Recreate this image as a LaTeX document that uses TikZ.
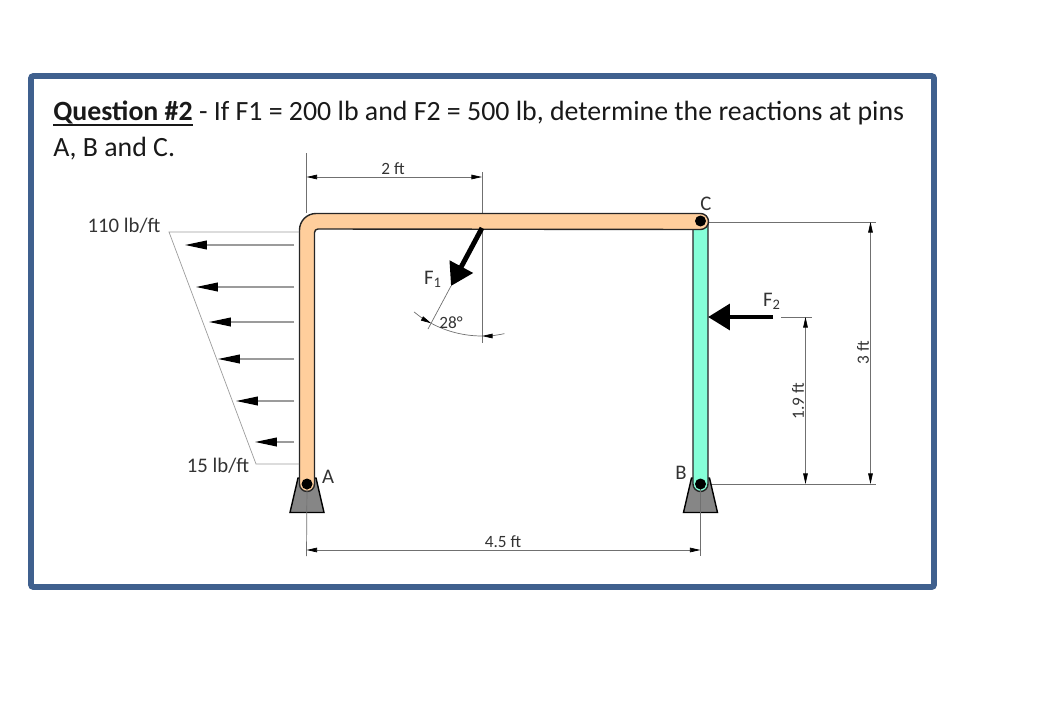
\documentclass[tikz,border=0pt]{standalone}
\usepackage{fontspec}
\setmainfont{Carlito}
\usetikzlibrary{arrows.meta,calc}
\definecolor{framecol}{HTML}{3F608E}
\definecolor{beamcol}{HTML}{FFCE9C}
\definecolor{linkcol}{HTML}{85FFD8}
\definecolor{dimcol}{HTML}{707070}
\definecolor{basecol}{HTML}{868686}
\newcommand{\ulbold}[1]{\setbox0\hbox{\textbf{#1}}\rlap{\raisebox{-3.2pt}{\rule{\wd0}{1.1pt}}}\box0\relax}
\tikzset{
    titletext/.style={anchor=base west,inner sep=0pt,font=\fontsize{15.85}{18}\selectfont,text=black!90},
    loadtext/.style={inner sep=0pt,font=\fontsize{11.8}{14}\selectfont,text=black!80},
    dimtext/.style={inner sep=0pt,font=\fontsize{9.8}{12}\selectfont,text=black!80},
    thinline/.style={dimcol,line width=0.4pt},
    dimline/.style={dimcol,line width=0.4pt,{Triangle[length=6pt,width=2.6pt,black]}-{Triangle[length=6pt,width=2.6pt,black]}},
    loadarrow/.style={dimcol!70,line width=0.8pt,-{Triangle[length=12.5pt,width=5pt,black]}},
    forcearrow/.style={black,line width=2.8pt,-{Triangle[length=12.5pt,width=14.5pt]}},
    member/.style={draw=black!85,line width=0.8pt},
    support/.style={draw=black,fill=basecol,line width=0.8pt},
    pin/.style={fill=black}
}
\begin{document}
\begin{tikzpicture}[x=0.02cm,y=-0.02cm]
    \useasboundingbox (0,0) rectangle (1039,703);

    % Moldura
    \draw[framecol,line width=3.4pt,rounded corners=1.5pt] (31,76) rectangle (934,587);

    % Enunciado
    \node[titletext] (line1) at (53,120) {\ulbold{Question \#2} - If F1 = 200 lb and F2 = 500 lb, determine the reactions at pins};
    \node[titletext] (line2) at (53,156) {A, B and C.};

    % Pontos principais
    \coordinate (A) at (307,484);
    \coordinate (B) at (700.5,484);
    \coordinate (C) at (700.5,221);
    \coordinate (H) at (482,228);

    % Linhas de cota
    \draw[thinline] (306.5,153) -- (306.5,213);
    \draw[thinline] (482,172) -- (482,343);
    \draw[thinline] (708,222) -- (876,222);
    \draw[thinline] (708,484) -- (876,484);
    \draw[thinline] (781,317) -- (812,317);

    % Apoios
    \draw[support] (290,512.5) -- (324,512.5) -- (316,478) -- (298,478) -- cycle;
    \draw[support] (683.5,512.5) -- (717.5,512.5) -- (709.5,478) -- (691.5,478) -- cycle;

    % Barra BC
    \draw[member,fill=linkcol] (693,222) -- (693,484) arc[start angle=180, end angle=0, radius=7.5] -- (708,222) -- cycle;

    % Barra AC
    \draw[member,fill=beamcol] (299.5,484) -- (299.5,230) arc[start angle=180, end angle=270, radius=16.5]
        -- (700.5,213.5) arc[start angle=-90, end angle=90, radius=8] -- (318,229)
        arc[start angle=270, end angle=180, radius=3.5] -- (314.5,484)
        arc[start angle=0, end angle=180, radius=7.5] -- cycle;

    % Pinos
    \draw[thinline] (A) -- (306.5,556);
    \draw[thinline] (B) -- (700.5,556);
    \fill[pin] (A) circle (5.5);
    \fill[pin] (B) circle (5.5);
    \fill[pin] (C) circle (5.5);

    % Cotas
    \draw[dimline] (306.5,177) -- (482,177);
    \draw[dimline] (306.5,550) -- (700.5,550);
    \draw[dimline] (805.5,317) -- (805.5,484);
    \draw[dimline] (870.5,222) -- (870.5,484);
    \node[dimtext] (dim2) at (393,169) {2 ft};
    \node[dimtext] (dim45) at (503,541.5) {4.5 ft};
    \node[dimtext,rotate=90] (dim19) at (798,401) {1.9 ft};
    \node[dimtext,rotate=90] (dim3) at (863,353) {3 ft};

    % Carga distribuida
    \draw[thinline,dimcol!70] (299,232) -- (169,232) -- (256,464) -- (299,464);
    \draw[loadarrow] (294,245) -- (185,245);
    \draw[loadarrow] (294,287) -- (196,287);
    \draw[loadarrow] (294,322) -- (209,322);
    \draw[loadarrow] (294,359) -- (218,359);
    \draw[loadarrow] (294,401) -- (236,401);
    \draw[loadarrow] (294,442) -- (255,442);
    \node[loadtext] (top) at (124,226) {110 lb/ft};
    \node[loadtext] (bottom) at (218,466) {15 lb/ft};

    % Forca F1 e angulo
    \draw[forcearrow] (H) -- (451,286);
    \draw[thinline] (451,286) -- (428,329);
    \draw[thinline,-{Triangle[length=6pt,width=2.6pt,black]}] ($(H)+(129:108)$) arc[start angle=129, end angle=118, radius=108];
    \draw[thinline,-{Triangle[length=6pt,width=2.6pt,black]}] ($(H)+(78:108)$) arc[start angle=78, end angle=90, radius=108];
    \draw[thinline] ($(H)+(118:108)$) arc[start angle=118, end angle=90, radius=108];
    \node[loadtext] (F1) at (433,279) {F\textsubscript{1}};
    \node[dimtext] (ang) at (451,323) {28°};

    % Forca F2
    \draw[forcearrow] (773,317) -- (708,317);
    \node[loadtext] (F2) at (772,301) {F\textsubscript{2}};

    % Nomes dos pinos
    \node[loadtext] (nameA) at (328,477) {A};
    \node[loadtext] (nameB) at (681,473) {B};
    \node[loadtext] (nameC) at (706,204) {C};
\end{tikzpicture}
\end{document}
